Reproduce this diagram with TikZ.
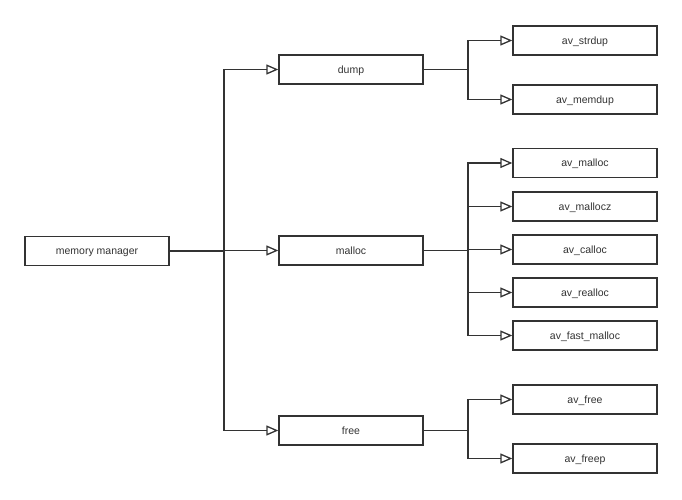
\documentclass[tikz,border=0pt]{standalone}
\usepackage{fontspec}
\setmainfont{Liberation Sans}
\usetikzlibrary{arrows.meta}
\definecolor{ln}{HTML}{333333}
\begin{document}
\begin{tikzpicture}[x=1pt,y=-1pt,
  box/.style={draw=ln,line width=1.4pt,minimum width=144pt,minimum height=29pt,inner sep=0pt,text height=7.5pt,text depth=0pt,font=\fontsize{10.5}{12}\selectfont,text=ln},
  con/.style={draw=ln,line width=1.4pt},
  arr/.style={con,-{Triangle[open,length=12pt,width=10pt,line width=1.3pt]}}]
\useasboundingbox (0,0) rectangle (682,500);
\node[box] (mm) at (97,251) {memory manager};
\node[box] (dump) at (351,69.5) {dump};
\node[box] (malloc) at (351,250.5) {malloc};
\node[box] (free) at (351,430.5) {free};
\node[box] (s1) at (585,40.5) {av\_strdup};
\node[box] (s2) at (585,99.5) {av\_memdup};
\node[box] (m1) at (585,163) {av\_malloc};
\node[box] (m2) at (585,206.5) {av\_mallocz};
\node[box] (m3) at (585,249.5) {av\_calloc};
\node[box] (m4) at (585,292.5) {av\_realloc};
\node[box] (m5) at (585,335.5) {av\_fast\_malloc};
\node[box] (f1) at (585,399.5) {av\_free};
\node[box] (f2) at (585,458.5) {av\_freep};
\coordinate (j0) at (224,251);
\coordinate (jd) at (468,69.5);
\coordinate (jm) at (468,250.5);
\coordinate (jf) at (468,430.5);
\draw[con] (mm.east) -- (j0);
\draw[con] (dump.east) -- (jd);
\draw[con] (malloc.east) -- (jm);
\draw[con] (free.east) -- (jf);
\foreach \t in {dump,malloc,free} \draw[arr] (j0) |- (\t.west);
\foreach \t in {s1,s2} \draw[arr] (jd) |- (\t.west);
\foreach \t in {m1,m2,m3,m4,m5} \draw[arr] (jm) |- (\t.west);
\foreach \t in {f1,f2} \draw[arr] (jf) |- (\t.west);
\end{tikzpicture}
\end{document}
